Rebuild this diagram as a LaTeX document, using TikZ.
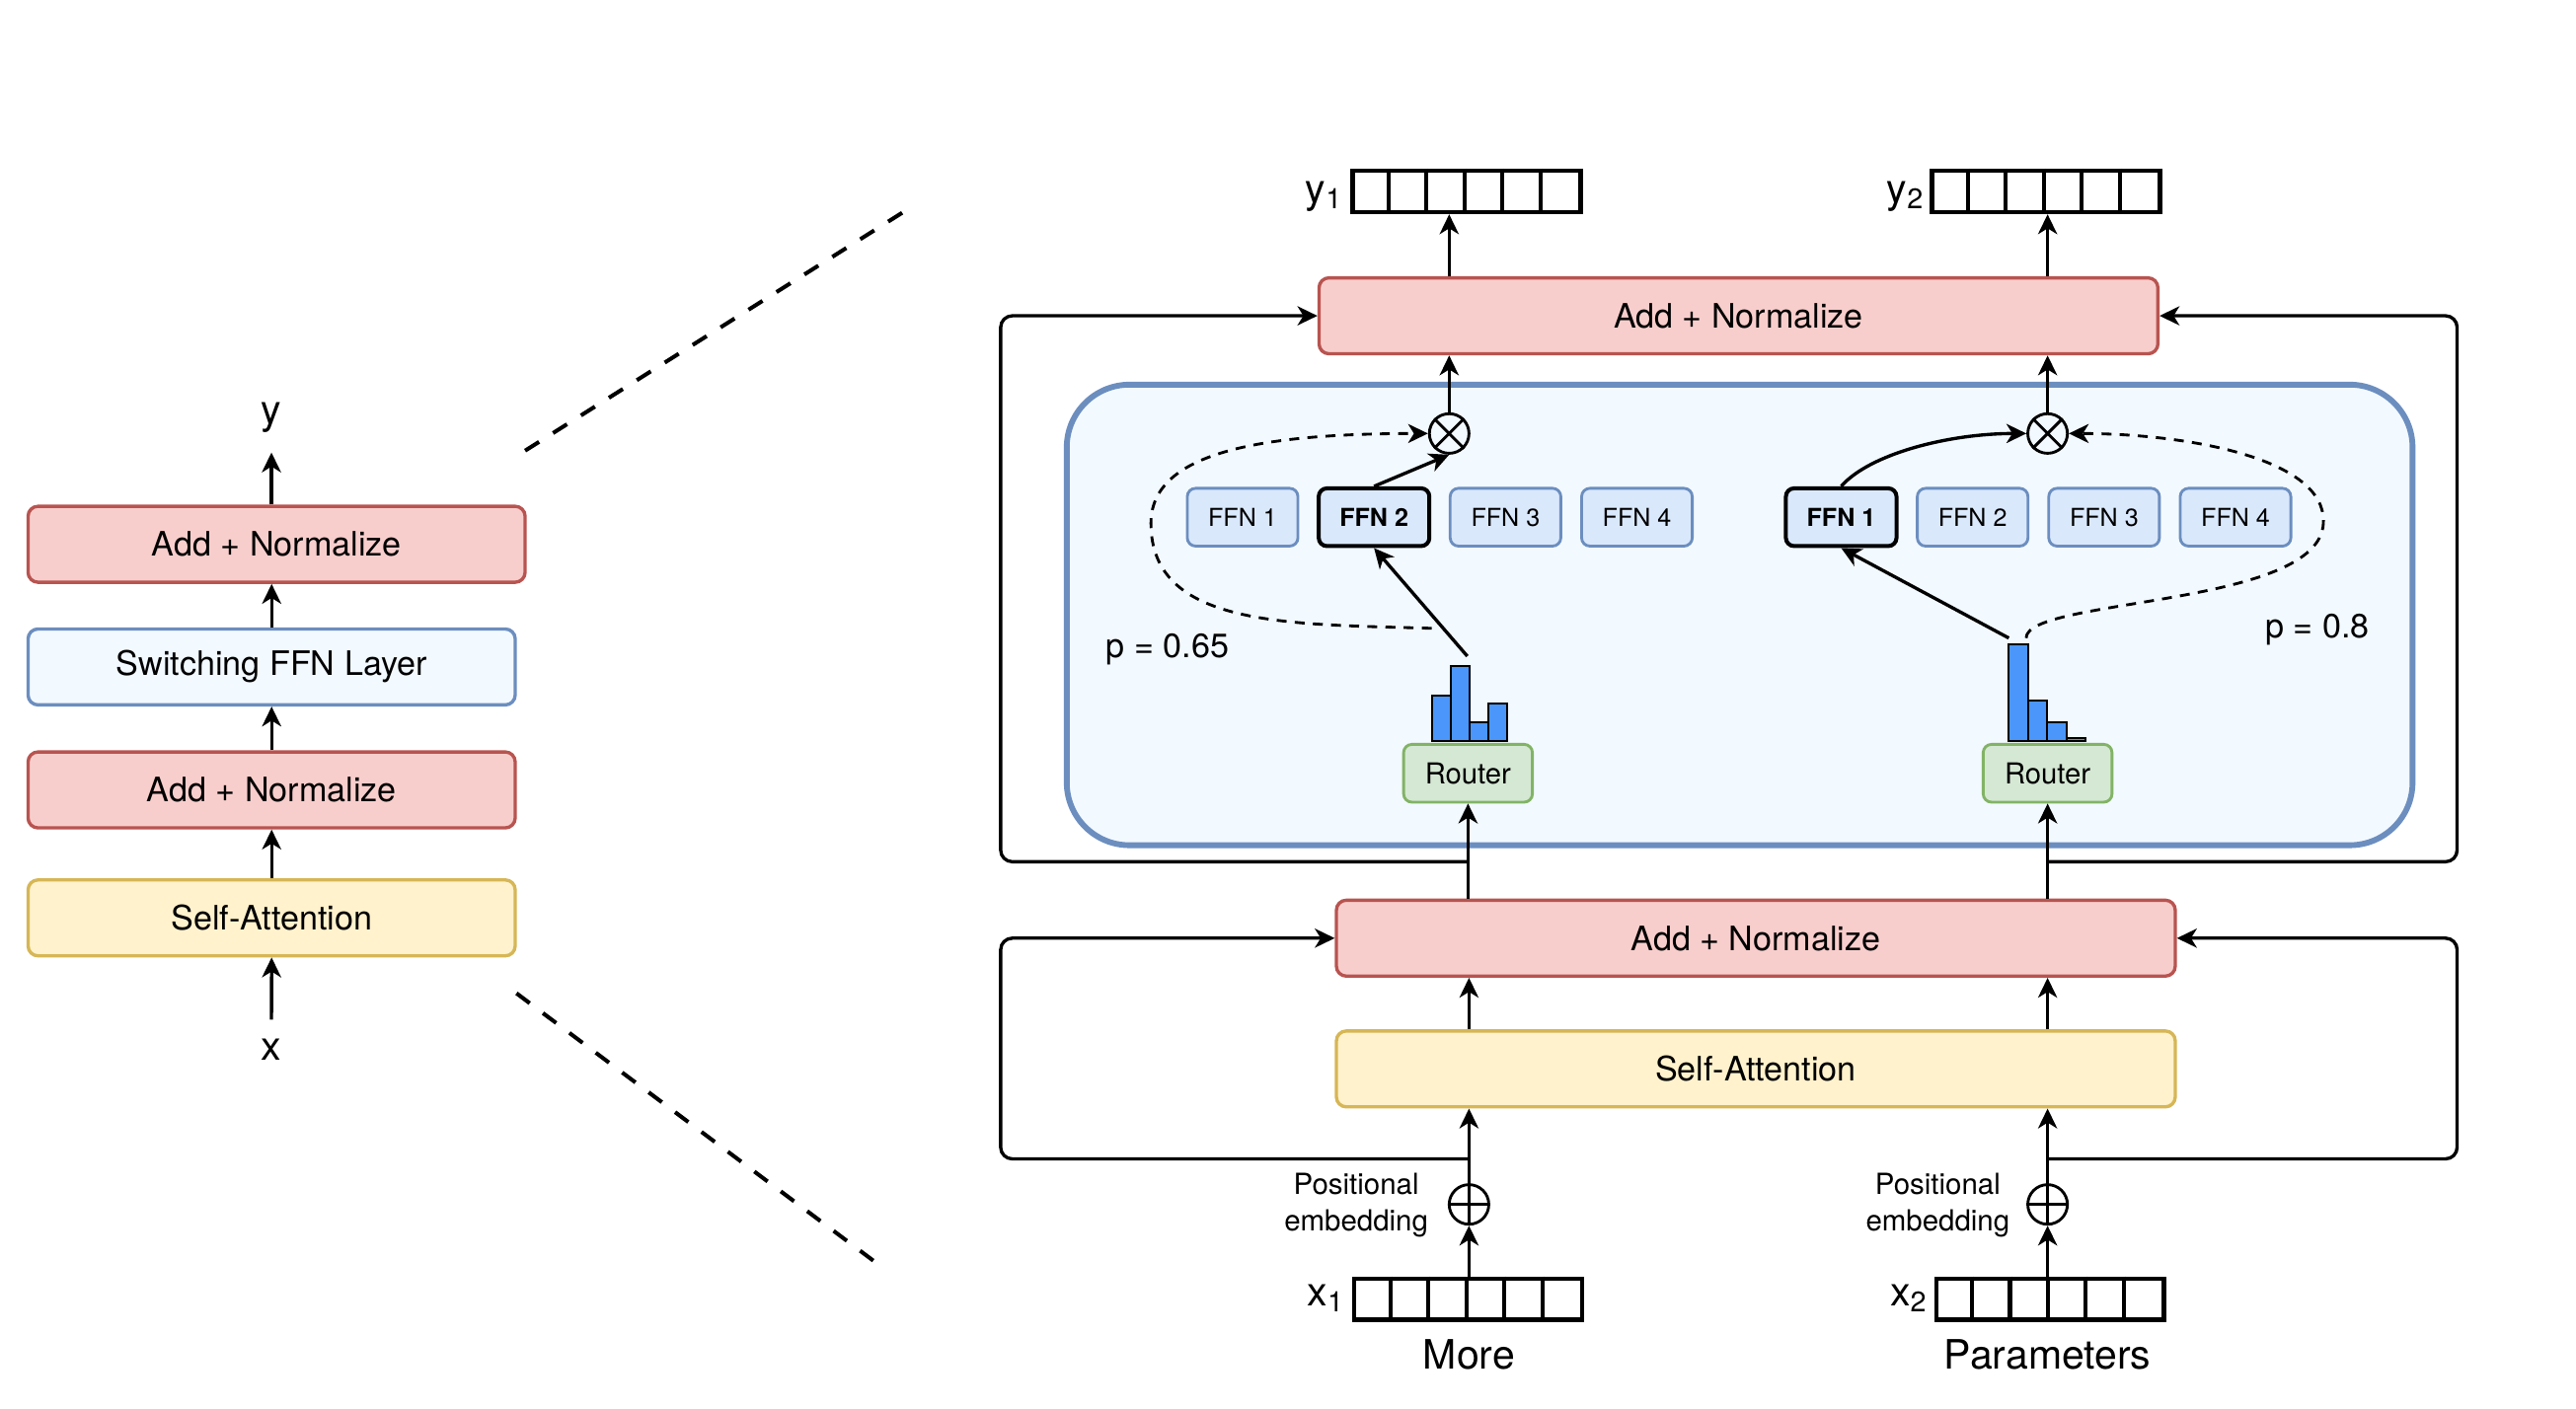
\documentclass[tikz,border=0pt]{standalone}
\usepackage{fontspec}
\setmainfont{TeX Gyre Heros}
\usetikzlibrary{arrows.meta}
\definecolor{anfill}{HTML}{F8CECC}
\definecolor{andraw}{HTML}{B85450}
\definecolor{safill}{HTML}{FFF2CC}
\definecolor{sadraw}{HTML}{D6B656}
\definecolor{bgfill}{HTML}{F2F9FF}
\definecolor{bldraw}{HTML}{6C8EBF}
\definecolor{fffill}{HTML}{DAE8FC}
\definecolor{rtfill}{HTML}{D5E8D4}
\definecolor{rtdraw}{HTML}{82B366}
\definecolor{barfill}{HTML}{4A96FA}

\begin{document}
\begin{tikzpicture}[x=1pt, y=-1pt, line width=2pt, >={Stealth[length=12pt,width=11.5pt,inset=3.5pt]},
      every node/.append style={inner sep=0pt, font=\fontsize{20.4}{24}\selectfont},
      block/.style={draw, rounded corners=6pt, line width=2pt, minimum height=46},
      addnorm/.style={block, fill=anfill, draw=andraw},
      selfatt/.style={block, fill=safill, draw=sadraw},
      switchffn/.style={block, fill=bgfill, draw=bldraw},
      ffn/.style={draw=bldraw, fill=fffill, rounded corners=5pt, line width=1.7pt,
                  minimum width=67, minimum height=35, font=\fontsize{15}{18}\selectfont},
      ffnsel/.style={ffn, draw=black, line width=2.4pt, font=\fontsize{15}{18}\selectfont\bfseries},
      router/.style={draw=rtdraw, fill=rtfill, rounded corners=5pt, line width=1.7pt,
                  minimum width=78, minimum height=35, font=\fontsize{17.5}{20}\selectfont},
      vec/.style={draw, line width=2.6pt, minimum width=138, minimum height=25},
      sym/.style={draw, circle, fill=bgfill, line width=1.7pt, minimum size=24},
      dasharr/.style={->, dashed, dash pattern=on 6pt off 5pt, line width=1.7pt}]
    \tikzstyle{word} = [font=\fontsize{24.5}{28}\selectfont]
    \tikzstyle{bar} = [fill=barfill, draw=black, line width=1.2pt]
    \useasboundingbox (0,0) rectangle (1560,853.5);

    % left: one layer
    \node (ly) [word] at (164.4,253) {y};
    \node (LAN2) [addnorm, minimum width=301] at (167.5,329.7) {Add + Normalize};
    \node (LSW) [switchffn, minimum width=295] at (164.5,404) {Switching FFN Layer};
    \node (LAN1) [addnorm, minimum width=295] at (164.5,478.5) {Add + Normalize};
    \node (LSA) [selfatt, minimum width=295] at (164.5,556) {Self-Attention};
    \node (lx) [word] at (164.4,636) {x};
    \draw[->] ([yshift=11pt]lx.north) -- (LSA.south);
    \draw[->] (LSA) -- (LAN1);
    \draw[->] (LAN1) -- (LSW);
    \draw[->] (LSW.north) -- (LSW.north |- LAN2.south);
    \draw[->] (LAN2.north -| ly) -- ([yshift=-11pt]ly.south);

    % zoom lines
    \coordinate (za) at (318,273);
    \coordinate (zb) at (549.5,126.9);
    \coordinate (zc) at (312.8,601.7);
    \coordinate (zd) at (532,766);
    \draw[dashed, dash pattern=on 10pt off 10pt, line width=2.4pt] (za) -- (zb) (zc) -- (zd);

    % right: the layer in detail
    \node (MOE) [draw=bldraw, fill=bgfill, line width=3.5pt, rounded corners=38pt,
                 minimum width=815, minimum height=279] at (1053.5,372.5) {};
    \node (TAN) [addnorm, minimum width=508] at (1052.8,191.3) {Add + Normalize};
    \node (AN) [addnorm, minimum width=508] at (1063.3,568.3) {Add + Normalize};
    \node (SA) [selfatt, minimum width=508] at (1063.3,647.5) {Self-Attention};

    % outputs and inputs
    \node (vy1) [vec] at (888.2,116) {};
    \node (vy2) [vec] at (1239,116) {};
    \node (vx1) [vec] at (889.2,787) {};
    \node (vx2) [vec] at (1241.5,787) {};
    \foreach \v in {vy1,vy2,vx1,vx2}
      \foreach \i in {1,...,5}
        \draw[line width=2.4pt] ([xshift=\i*23pt]\v.north west) -- ([xshift=\i*23pt]\v.south west);
    \node (ly1) [word, anchor=base east] at (814,122.7) {y\textsubscript{1}};
    \node (ly2) [word, anchor=base east] at (1166,122.7) {y\textsubscript{2}};
    \node (lx1) [word, anchor=base east] at (815,791) {x\textsubscript{1}};
    \node (lx2) [word, anchor=base east] at (1168,791) {x\textsubscript{2}};
    \node (more) [word] at (889.6,820.6) {More};
    \node (params) [word] at (1240,820.6) {Parameters};

    % experts
    \node (fa1) [ffn] at (752.5,313.3) {FFN 1};
    \node (fa2) [ffnsel] at (832.1,313.3) {FFN 2};
    \node (fa3) [ffn] at (911.7,313.3) {FFN 3};
    \node (fa4) [ffn] at (991.3,313.3) {FFN 4};
    \node (fb1) [ffnsel] at (1115,313.3) {FFN 1};
    \node (fb2) [ffn] at (1194.6,313.3) {FFN 2};
    \node (fb3) [ffn] at (1274.2,313.3) {FFN 3};
    \node (fb4) [ffn] at (1353.8,313.3) {FFN 4};

    % routers and their scores
    \node (r1) [router] at (889,468.4) {Router};
    \node (r2) [router] at (1240,468.4) {Router};
    \draw[bar] (867.3,448.7) rectangle ++(11.4,-27.3);
    \draw[bar] (878.7,448.7) rectangle ++(11.4,-45.2);
    \draw[bar] (890.1,448.7) rectangle ++(11.4,-11.4);
    \draw[bar] (901.5,448.7) rectangle ++(11.4,-22.7);
    \draw[bar] (1216.6,448.7) rectangle ++(11.6,-58.3);
    \draw[bar] (1228.2,448.7) rectangle ++(11.6,-24.4);
    \draw[bar] (1239.8,448.7) rectangle ++(11.6,-11.3);
    \draw[bar] (1251.4,448.7) rectangle ++(11.6,-1.7);
    \coordinate (h1s) at (888.6,397.5);
    \coordinate (h1d) at (867,380.6);
    \coordinate (h2s) at (1216.5,386.5);
    \coordinate (h2d) at (1227,386.5);

    % gates
    \node (m1) [sym] at (877.6,262.6) {};
    \node (m2) [sym] at (1240,262.6) {};
    \draw[line width=1.7pt] (m1.north west) -- (m1.south east) (m1.north east) -- (m1.south west);
    \draw[line width=1.7pt] (m2.north west) -- (m2.south east) (m2.north east) -- (m2.south west);
    \node (p1) [sym, fill=white] at (889.6,729.6) {};
    \node (p2) [sym, fill=white] at (1240,729.6) {};
    \draw[line width=1.7pt] (p1.north) -- (p1.south) (p1.west) -- (p1.east);
    \draw[line width=1.7pt] (p2.north) -- (p2.south) (p2.west) -- (p2.east);
    \node (pe1) [align=center, font=\fontsize{17.6}{22.3}\selectfont] at (821.3,730) {Positional\\embedding};
    \node (pe2) [align=center, font=\fontsize{17.6}{22.3}\selectfont] at (1173.5,730) {Positional\\embedding};
    \node (pa) at (707,393.4) {p = 0.65};
    \node (pb) at (1403.5,381.4) {p = 0.8};

    % residual loops
    \coordinate (la) at (889,522);
    \coordinate (lb) at (1240,522);
    \coordinate (lc) at (889.6,702);
    \coordinate (ld) at (1240,702);
    \draw[->, rounded corners=7pt] (la) -- (606,522) -- (606,191.3) -- (TAN.west);
    \draw[->, rounded corners=7pt] (lb) -- (1488,522) -- (1488,191.3) -- (TAN.east);
    \draw[->, rounded corners=7pt] (lc) -- (606,702) -- (606,568.3) -- (AN.west);
    \draw[->, rounded corners=7pt] (ld) -- (1488,702) -- (1488,568.3) -- (AN.east);

    % data flow
    \draw[->] (vx1.north -| p1) -- (p1.south);
    \draw[->] (vx2.north -| p2) -- (p2.south);
    \draw[->] (p1.north) -- (p1.north |- SA.south);
    \draw[->] (p2.north) -- (p2.north |- SA.south);
    \draw[->] (SA.north -| p1) -- (AN.south -| p1);
    \draw[->] (SA.north -| p2) -- (AN.south -| p2);
    \draw[->] (AN.north -| r1) -- (r1.south);
    \draw[->] (AN.north -| r2) -- (r2.south);
    \draw[->] (h1s) -- (fa2.south);
    \draw[->] (h2s) -- (fb1.south);
    \draw[->] (fa2.north) -- (m1.south);
    \draw[->] (fb1.north) .. controls (1132,275) and (1180,262.6) .. (m2.west);
    \draw[dasharr] (h1d) .. controls (780,378) and (697,380) .. (697,317)
                         .. controls (697,275) and (760,262.6) .. (m1.west);
    \draw[dasharr] (h2d) .. controls (1227,362) and (1405,368) .. (1407,316.8)
                         .. controls (1409,277) and (1322,262.6) .. (m2.east);
    \draw[->] (m1.north) -- (m1.north |- TAN.south);
    \draw[->] (m2.north) -- (m2.north |- TAN.south);
    \draw[->] (TAN.north -| m1) -- (vy1.south -| m1);
    \draw[->] (TAN.north -| m2) -- (vy2.south -| m2);
\end{tikzpicture}
\end{document}
